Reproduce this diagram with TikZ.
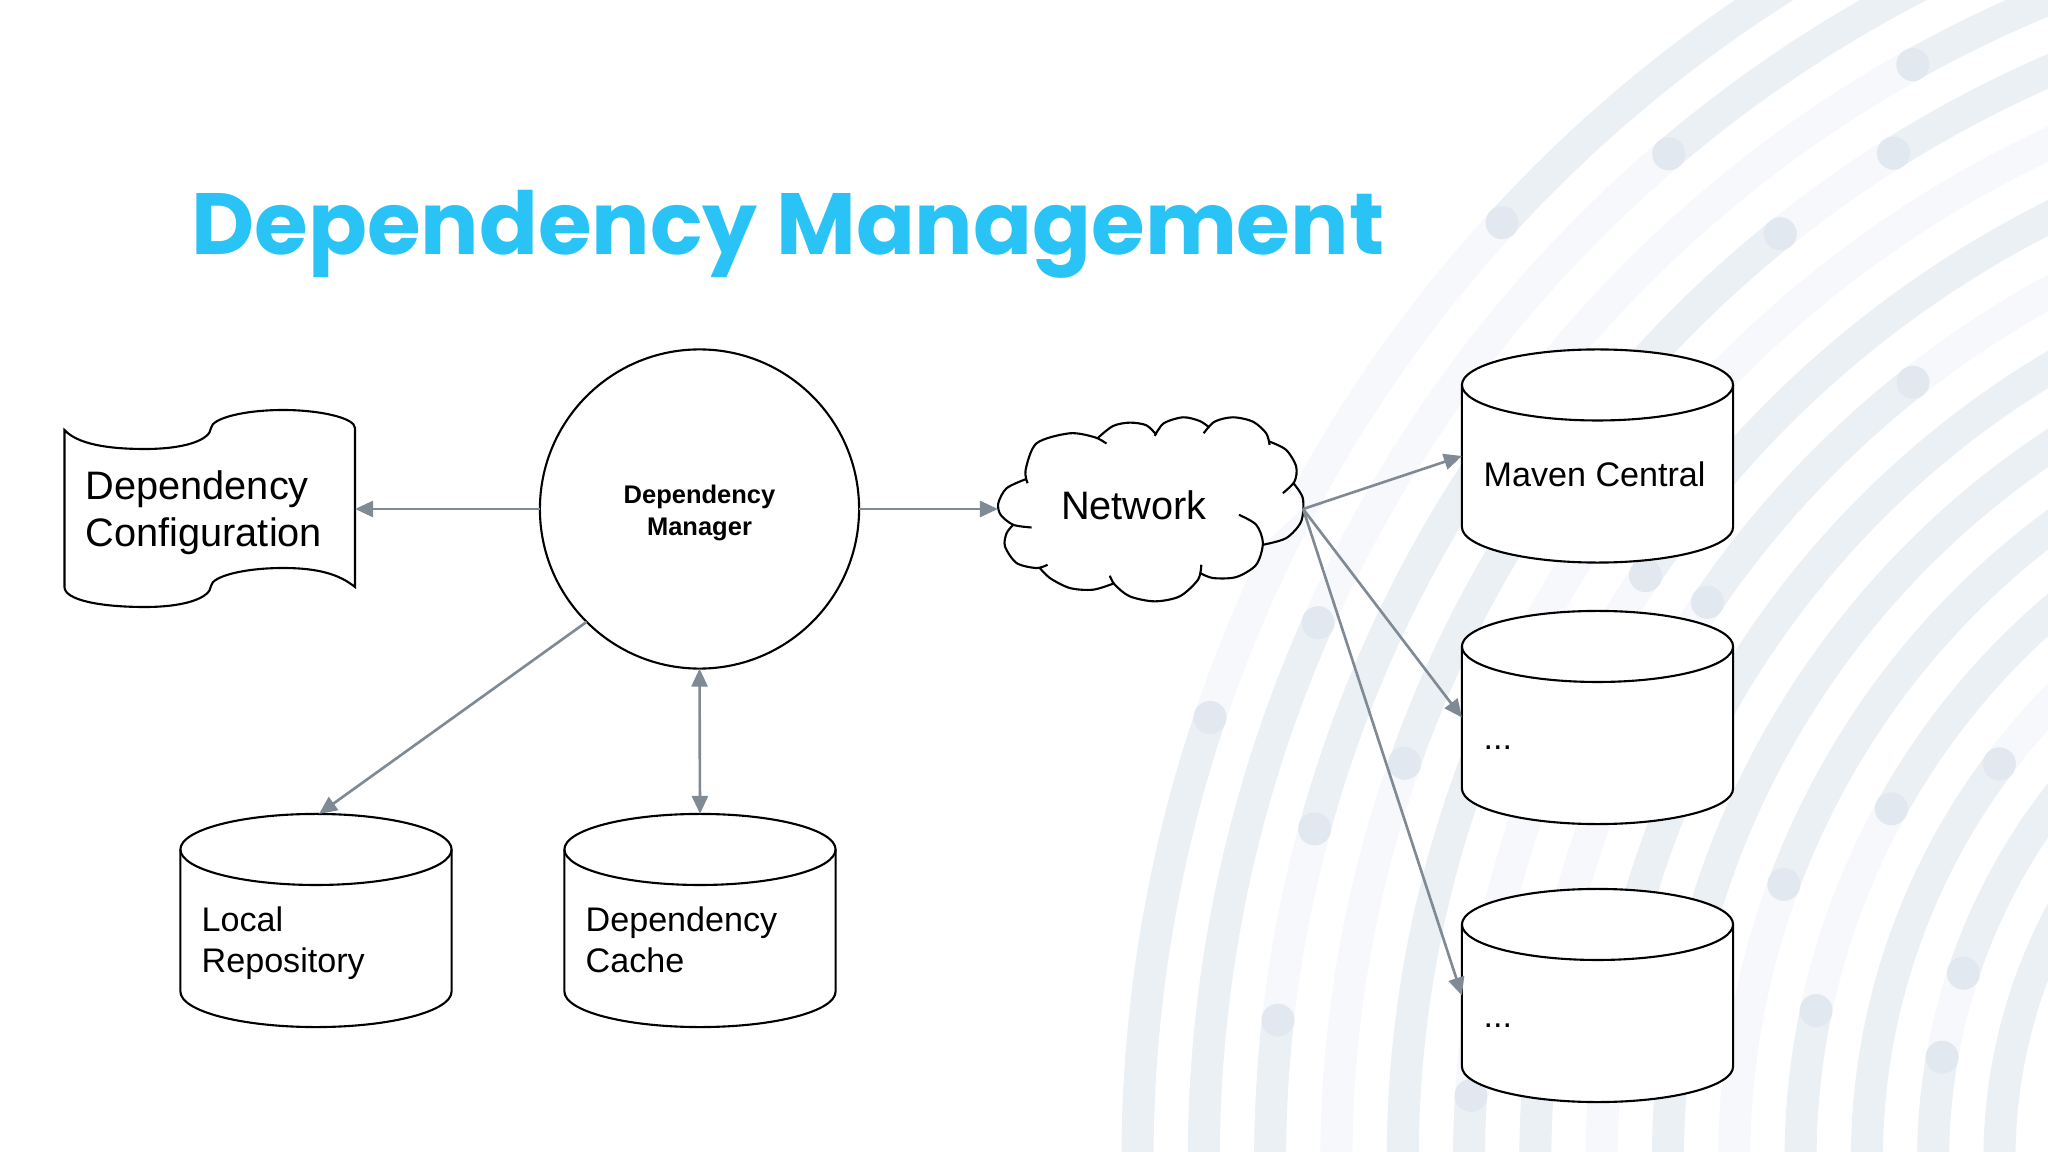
\documentclass[tikz,border=0pt]{standalone}
\usepackage{fontspec}
\setmainfont{Liberation Sans}
\newfontfamily\titlefont{Poppins}
\usepackage{tikz}
\usetikzlibrary{arrows.meta}

\definecolor{ringdark}{HTML}{EBF0F5}
\definecolor{ringlight}{HTML}{F6F8FB}
\definecolor{ringdot}{HTML}{E2E8F0}
\definecolor{titleblue}{HTML}{29C3F6}
\definecolor{linkgray}{HTML}{7F8A95}

\tikzset{
  dbbox/.style={minimum width=2.71cm,minimum height=2.13cm,inner sep=0pt,outer sep=0pt},
  dbline/.style={draw=black,fill=white,line width=0.6pt},
  dblabel/.style={anchor=base west,align=left,inner sep=0pt,font=\fontsize{9.7pt}{11.5pt}\selectfont},
  biglabel/.style={anchor=base west,align=left,inner sep=0pt,font=\fontsize{11.3pt}{13.4pt}\selectfont},
  link/.style={draw=linkgray,line width=0.75pt,-{Triangle[length=0.18cm,width=0.16cm]}}
}

% one drum with its name and centre
\newcommand{\dbdrum}[2]{
  \node[dbbox] (#1) at (#2) {};
  \draw[dbline] ([yshift=0.71cm]#1.west) arc[start angle=180,end angle=0,x radius=1.355cm,y radius=0.355cm]
    -- ([yshift=-0.71cm]#1.east) arc[start angle=0,end angle=-180,x radius=1.355cm,y radius=0.355cm] -- cycle;
  \draw[dbline,fill=none] ([yshift=0.71cm]#1.west) arc[start angle=180,end angle=360,x radius=1.355cm,y radius=0.355cm];
}

\begin{document}
\begin{tikzpicture}[x=0.01cm,y=-0.01cm]
  \useasboundingbox (0,0) rectangle (2048,1152);
  \fill[white] (0,0) rectangle (2048,1152);

  % background rings
  \begin{scope}
    \clip (0,0) rectangle (2048,1152);
    \coordinate (hub) at (2525,1160);
    \foreach \i/\from/\to in {0/0/18.6,0/42.5/90,1/0/24,1/49.6/90,2/0/6.4,2/15.3/36,2/60.8/90,
        3/19.5/51.2,3/57.9/90,4/0/24,5/0/3.5,5/33.6/90,6/0/10,6/34.3/51.8,7/10/90,8/0/90,
        9/20.4/90,10/0/11.9,10/29/90,11/0/37,12/0/10,12/18.4/90,13/0/90}{
      \pgfmathsetmacro{\r}{1387.5-66.3*\i}
      \draw[ringdark,line width=0.32cm] (hub) ++(180+\from:\r) arc[start angle=180+\from,end angle=180+\to,radius=\r];
    }
    \foreach \i/\from/\to in {0/18.6/42.5,1/24/49.6,2/6.4/15.3,2/36/60.8,3/0/19.5,3/51.2/57.9,
        4/24/90,5/3.5/33.6,6/10/34.3,6/51.8/90,7/0/10,9/0/20.4,10/11.9/29,11/37/90,12/10/18.4}{
      \pgfmathsetmacro{\r}{1387.5-66.3*\i}
      \draw[ringlight,line width=0.32cm] (hub) ++(180+\from:\r) arc[start angle=180+\from,end angle=180+\to,radius=\r];
    }
    \foreach \i/\a in {0/18.6,0/42.5,1/24,1/49.6,2/6.4,2/15.3,2/60.8,3/19.5,3/51.2,3/57.9,5/3.5,5/33.6,
        6/34.3,6/51.8,9/20.4,10/11.9,10/29,11/37,12/10,12/18.4}{
      \pgfmathsetmacro{\r}{1387.5-66.3*\i}
      \fill[ringdot] (hub) ++(180+\a:\r) circle[radius=16.5];
    }
  \end{scope}

  \node[anchor=base west,inner sep=0pt,text=titleblue,font=\titlefont\bfseries\fontsize{24.7pt}{28pt}\selectfont] (title) at (191,255) {Dependency Management};

  % nodes
  \draw[dbline] (64.5,430) .. controls (80,447) and (120,449) .. (145,449)
    .. controls (185,449) and (210,440) .. (211,428)
    .. controls (212,418) and (245,410) .. (283,410)
    .. controls (320,410) and (355,418) .. (355,428)
    -- (355,587) .. controls (340,575) and (320,568) .. (283,568)
    .. controls (245,568) and (212,576) .. (211,586)
    .. controls (210,598) and (185,607) .. (145,607)
    .. controls (100,607) and (64.5,600) .. (64.5,587) -- cycle;
  \node[minimum width=2.905cm,minimum height=1.57cm,inner sep=0pt,outer sep=0pt] (config) at (209.75,509) {};
  \node[biglabel] (configtext) at (85,547) {Dependency\\Configuration};

  \node[circle,draw=black,fill=white,line width=0.6pt,minimum size=3.19cm,inner sep=0pt,outer sep=0pt] (manager) at (699.5,509) {};
  \node[align=center,inner sep=0pt,font=\bfseries\fontsize{7.25pt}{8.9pt}\selectfont] (managertext) at (699.5,513) {Dependency\\Manager};

  \dbdrum{localrepo}{316,920.5}
  \dbdrum{cache}{700,920.5}
  \dbdrum{maven}{1597.5,456}
  \dbdrum{mirrora}{1597.5,717.5}
  \dbdrum{mirrorb}{1597.5,995.5}

  \node[dblabel] (localtext) at (201,972) {Local\\Repository};
  \node[dblabel] (cachetext) at (585,972) {Dependency\\Cache};
  \node[dblabel] (maventext) at (1483,487) {Maven Central};
  \node[dblabel] (mirroratext) at (1483,749) {...};
  \node[dblabel] (mirrorbtext) at (1483,1027) {...};

  % cloud
  \begin{scope}[shift={(980,400)},x=0.003333cm,y=-0.003333cm]
    \fill[white] (100,375) -- (55,320) -- (140,237) -- (170,130) -- (270,100) -- (355,113) -- (450,68) -- (530,105)
      -- (610,52) -- (688,80) -- (760,52) -- (870,130) -- (950,200) -- (940,248) -- (970,325) -- (850,435)
      -- (770,535) -- (660,520) -- (525,605) -- (395,535) -- (270,565) -- (178,503) -- (75,440) -- cycle;
    \draw[black,line width=0.6pt]
      plot[smooth] coordinates {(155,383) (100,375) (62,345) (55,310) (80,265) (140,237)}
      plot[smooth] coordinates {(143,250) (137,210) (170,130) (270,100) (345,112) (380,131)}
      plot[smooth] coordinates {(355,113) (400,78) (450,68) (500,76) (530,105)}
      plot[smooth] coordinates {(525,108) (552,70) (610,52) (660,63) (688,82)}
      plot[smooth] coordinates {(672,100) (705,65) (760,52) (820,65) (860,100) (870,135)}
      plot[smooth] coordinates {(870,125) (920,150) (950,200) (945,245) (910,280)}
      plot[smooth] coordinates {(940,248) (970,295) (965,365) (920,415) (850,435)}
      plot[smooth] coordinates {(778,345) (830,375) (850,430) (830,495) (770,532) (700,535) (662,520)}
      plot[smooth] coordinates {(665,495) (655,540) (600,590) (525,605) (450,590) (405,555) (390,528)}
      plot[smooth] coordinates {(405,550) (340,570) (270,565) (210,535) (178,503)}
      plot[smooth] coordinates {(203,495) (170,505) (110,490) (75,440) (80,400) (100,375)};
  \end{scope}
  \node[minimum width=3.05cm,minimum height=1.6cm,inner sep=0pt,outer sep=0pt] (network) at (1150.5,509) {};
  \node[inner sep=0pt,font=\fontsize{11.3pt}{13.4pt}\selectfont] (networktext) at (1134,505) {Network};

  % links
  \draw[link] (manager.west) -- (config.east);
  \draw[link] (manager.east) -- (network.west);
  \draw[link] (manager.225) -- ([xshift=0.03cm]localrepo.north);
  \draw[link,{Triangle[length=0.18cm,width=0.16cm]}-{Triangle[length=0.18cm,width=0.16cm]}] (manager.south) -- (cache.north);
  \draw[link] (network.east) -- (maven.west);
  \draw[link] (network.east) -- (mirrora.west);
  \draw[link] (network.east) -- (mirrorb.west);
\end{tikzpicture}
\end{document}
